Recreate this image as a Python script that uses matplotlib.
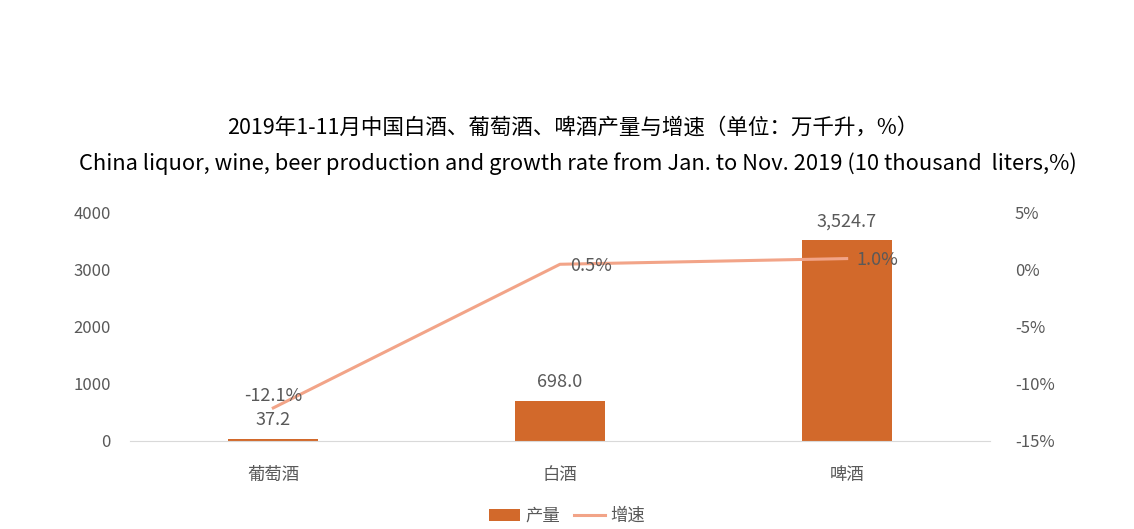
import matplotlib
matplotlib.use("Agg")
import matplotlib.pyplot as plt
import numpy as np

plt.rcParams['font.family'] = ['Noto Sans CJK SC', 'DejaVu Sans']

categories = ['葡萄酒', '白酒', '啤酒']
production = [37.2, 698.0, 3524.7]
growth = [-12.1, 0.5, 1.0]
prod_labels = ['37.2', '698.0', '3,524.7']
growth_labels = ['-12.1%', '0.5%', '1.0%']

bar_color = '#D2692B'
line_color = '#F2A488'
text_color = '#595959'

fig = plt.figure(figsize=(11.34, 5.29), dpi=100)
ax = fig.add_axes([0.1146, 0.1664, 0.7584, 0.431])
ax2 = ax.twinx()

x = np.arange(len(categories))
ax.bar(x, production, width=0.314, color=bar_color, zorder=2, label='产量')
ax.set_xlim(-0.5, 2.5)
ax.set_ylim(0, 4000)
ax.set_yticks([0, 1000, 2000, 3000, 4000])
ax.set_xticks(x)
ax.set_xticklabels(categories)

ax2.plot(x, growth, color=line_color, lw=2.2, zorder=3, label='增速')
ax2.set_ylim(-15, 5)
ax2.set_yticks([-15, -10, -5, 0, 5])
ax2.set_yticklabels(['-15%', '-10%', '-5%', '0%', '5%'])

for a in (ax, ax2):
    for s in a.spines.values():
        s.set_visible(False)
    a.tick_params(length=0, labelsize=12, colors=text_color)
ax.spines['bottom'].set_visible(True)
ax.spines['bottom'].set_color('#D9D9D9')
ax.tick_params(axis='y', pad=14)
ax.tick_params(axis='x', labelsize=12.5, pad=18)
ax2.tick_params(axis='y', pad=18)

# bar labels
for xi, v, lab in zip(x, production, prod_labels):
    ax.annotate(lab, (xi, v), xytext=(0, 7), textcoords='offset points',
                ha='center', va='bottom', fontsize=13, color=text_color)

# line labels
offsets = [(0, 2, 'center', 'bottom'), (7, -1, 'left', 'center'), (7, -1, 'left', 'center')]
for xi, v, lab, (dx, dy, ha, va) in zip(x, growth, growth_labels, offsets):
    ax2.annotate(lab, (xi, v), xytext=(dx, dy), textcoords='offset points',
                 ha=ha, va=va, fontsize=13, color=text_color)

fig.text(0.505, 0.758, '2019年1-11月中国白酒、葡萄酒、啤酒产量与增速（单位：万千升，%）',
         ha='center', va='center', fontsize=15.5, fontweight='medium', color='black')
fig.text(0.51, 0.69, 'China liquor, wine, beer production and growth rate from Jan. to Nov. 2019 (10 thousand  liters,%)',
         ha='center', va='center', fontsize=15.8, fontweight='medium', color='black')

h1, l1 = ax.get_legend_handles_labels()
h2, l2 = ax2.get_legend_handles_labels()
fig.legend(h1 + h2, l1 + l2, loc='center', bbox_to_anchor=(0.5, 0.025), ncol=2,
           frameon=False, fontsize=12.5, labelcolor=text_color, handlelength=1.8,
           handletextpad=0.3, columnspacing=0.8)

fig.savefig('out.png', dpi=100)
